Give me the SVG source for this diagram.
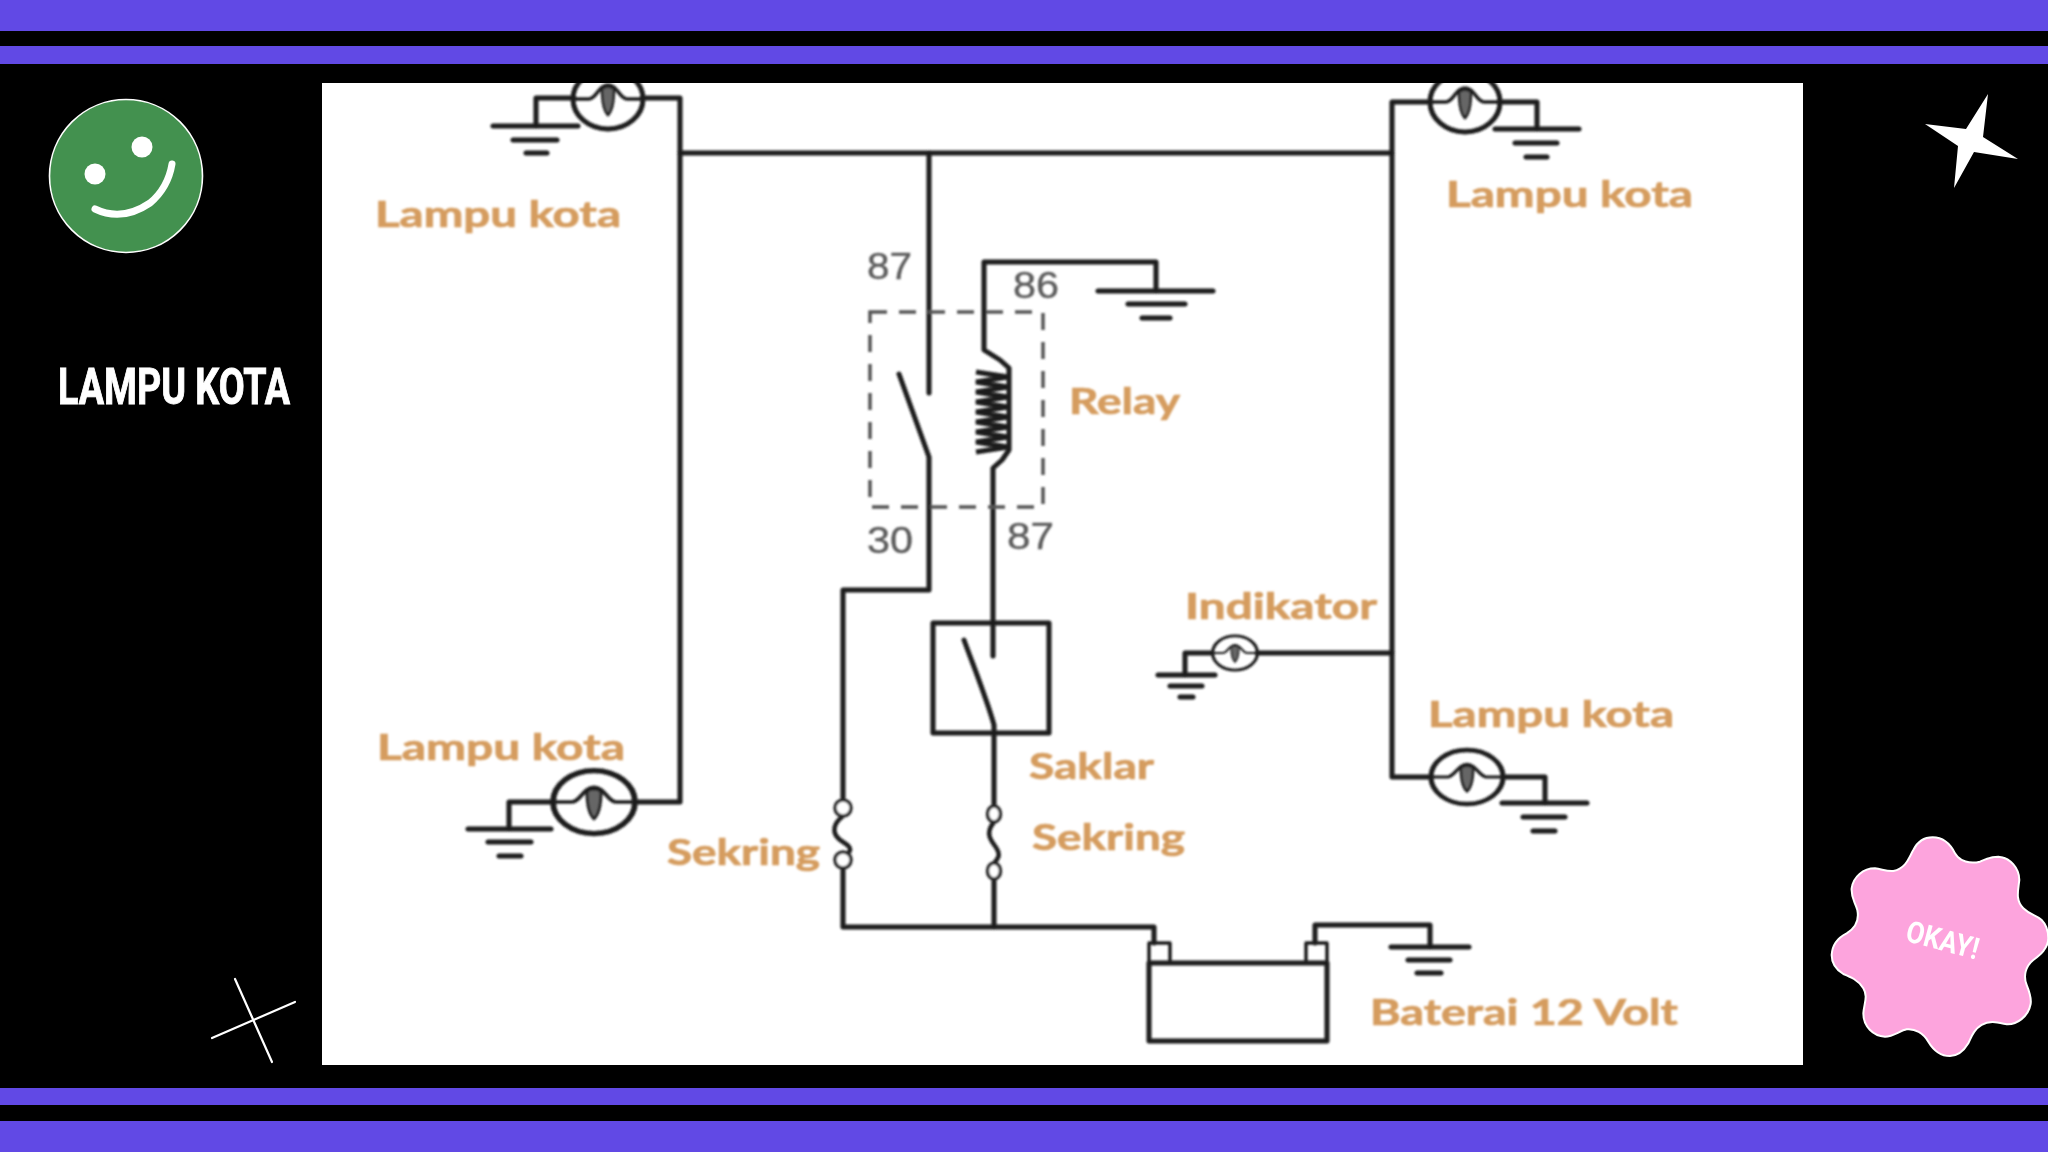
<svg xmlns="http://www.w3.org/2000/svg" width="2048" height="1152" viewBox="0 0 2048 1152">
<style>
.bar{fill:#6149e5}
.w{fill:none;stroke:#1c1c1c;stroke-width:5;stroke-linejoin:round;stroke-linecap:round}
.t{fill:none;stroke:#1c1c1c;stroke-width:3.5;stroke-linejoin:round}
.lab{font-family:"Lato","Open Sans","Liberation Sans",sans-serif;font-weight:700;font-size:36px;fill:#d59c5e;stroke:#d59c5e;stroke-width:.7}
.num{font-family:"Liberation Sans",sans-serif;font-size:37px;fill:#5c5c5c;stroke:#5c5c5c;stroke-width:.4}
.fuse{fill:#fff;stroke:#2a2a2a;stroke-width:3.5}
.cond{font-family:"Liberation Sans Narrow","Roboto","Liberation Sans",sans-serif;font-weight:700;fill:#fff}
</style>
<defs>
<clipPath id="panelClip"><rect x="322" y="83" width="1481" height="982"/></clipPath>
<filter id="soft" x="-5%" y="-5%" width="110%" height="110%"><feGaussianBlur stdDeviation="0.9"/></filter>
<filter id="softer" x="-5%" y="-5%" width="110%" height="110%"><feGaussianBlur stdDeviation="1.2"/></filter>
<g id="lampShape">
<ellipse cx="0" cy="0" rx="35" ry="30" fill="none" stroke="#1c1c1c" stroke-width="5"/>
<path d="M-35 0H-19C-12 0-9-14 0-14C9-14 12 0 19 0H35" fill="none" stroke="#1c1c1c" stroke-width="3.5"/>
<path d="M-6-10C-6 6-3 13 0 16C3 13 6 6 6-10C3-13-3-13-6-10Z" fill="#666" stroke="#1c1c1c" stroke-width="2.5"/>
</g>
</defs>

<rect width="2048" height="1152" fill="#000"/>
<g id="bars">
<rect class="bar" x="0" y="0" width="2048" height="31"/>
<rect class="bar" x="0" y="46" width="2048" height="18"/>
<rect class="bar" x="0" y="1088" width="2048" height="17"/>
<rect class="bar" x="0" y="1121" width="2048" height="31"/>
</g>

<rect id="panel" x="322" y="83" width="1481" height="982" fill="#fff"/>

<g id="diagram" clip-path="url(#panelClip)">
<g filter="url(#soft)">
<g id="connectors">
<path class="w" d="M536 126V98H574M642 98H680V802H635M553 802H509V829"/>
<path class="w" d="M680 153H1392"/>
<path class="w" d="M1430 102H1392V777H1430M1499 102H1537V129M1503 777H1545V803"/>
<path class="w" d="M1392 653H1257M1212 653H1185V675"/>
<path class="w" d="M929 153V393"/>
<path class="w" d="M899 374L929 457V590H843V808M843 860V927H1154V943"/>
<path class="w" d="M1156 291V262H984V350L1000 360L1009 368V450L1002 460L993 468V656"/>
<path class="w" d="M964 640C975 670 987 700 994 725V805M994 880V927"/>
<path class="w" d="M1315 943V925H1430V947"/>
</g>

<g id="relay">
<rect x="870" y="312" width="173" height="195" fill="none" stroke="#555" stroke-width="3.5" stroke-dasharray="17 12"/>
<path d="M976 372L1008 377L976 382L1008 387L976 392L1008 397L976 402L1008 407L976 412L1008 417L976 422L1008 427L976 432L1008 437L976 442L1008 447L976 452" fill="none" stroke="#1c1c1c" stroke-width="5"/>
</g>

<g id="switch"><rect class="w" x="933" y="623" width="116" height="110"/></g>

<g id="fuse-left">
<path d="M843 816C830 826 833 836 843 842C853 848 852 852 843 856" fill="none" stroke="#1c1c1c" stroke-width="4.5"/>
<circle class="fuse" cx="843" cy="808" r="8"/><circle class="fuse" cx="843" cy="860" r="8"/>
</g>
<g id="fuse-right">
<path d="M994 822C986 832 989 838 995 846C1001 854 999 858 994 863" fill="none" stroke="#1c1c1c" stroke-width="4.5"/>
<ellipse class="fuse" cx="994" cy="814" rx="6.5" ry="8"/><ellipse class="fuse" cx="994" cy="871" rx="6.5" ry="8"/>
</g>

<g id="battery">
<rect class="w" x="1149" y="963" width="178" height="78"/>
<rect class="t" x="1149" y="943" width="21" height="20"/>
<rect class="t" x="1306" y="943" width="21" height="20"/>
</g>

<g id="lamp-top-left"><use href="#lampShape" transform="translate(608 99)"/></g>
<g id="lamp-top-right"><use href="#lampShape" transform="translate(1465 102)"/></g>
<g id="lamp-bottom-left"><use href="#lampShape" transform="translate(594 802) scale(1.17 1.05)"/></g>
<g id="lamp-bottom-right"><use href="#lampShape" transform="translate(1467 777) scale(1.03 .9)"/></g>
<g id="lamp-indicator"><use href="#lampShape" transform="translate(1235 653) scale(.64 .57)"/></g>

<g id="grounds">
<path class="w" d="M493 126H578M513 140H557M526 153H547"/>
<path class="w" d="M1495 129H1579M1515 143H1557M1526 157H1547"/>
<path class="w" d="M468 829H551M488 842H531M499 856H521"/>
<path class="w" d="M1502 803H1587M1523 817H1565M1533 831H1555"/>
<path class="w" d="M1158 675H1215M1170 686H1202M1180 697H1193"/>
<path class="w" d="M1098 291H1213M1128 304H1185M1142 318H1170"/>
<path class="w" d="M1391 947H1469M1408 960H1450M1417 973H1441"/>
</g>
</g>

<g id="labels" filter="url(#softer)">
<text class="lab" x="375" y="227" textLength="246" lengthAdjust="spacingAndGlyphs">Lampu kota</text>
<text class="lab" x="1446" y="207" textLength="247" lengthAdjust="spacingAndGlyphs">Lampu kota</text>
<text class="lab" x="377" y="760" textLength="248" lengthAdjust="spacingAndGlyphs">Lampu kota</text>
<text class="lab" x="1428" y="727" textLength="246" lengthAdjust="spacingAndGlyphs">Lampu kota</text>
<text class="lab" x="1185" y="619" textLength="192" lengthAdjust="spacingAndGlyphs">Indikator</text>
<text class="lab" x="1069" y="414" textLength="111" lengthAdjust="spacingAndGlyphs">Relay</text>
<text class="lab" x="1029" y="779" textLength="125" lengthAdjust="spacingAndGlyphs">Saklar</text>
<text class="lab" x="667" y="865" textLength="153" lengthAdjust="spacingAndGlyphs">Sekring</text>
<text class="lab" x="1032" y="850" textLength="153" lengthAdjust="spacingAndGlyphs">Sekring</text>
<text class="lab" x="1370" y="1025" textLength="308" lengthAdjust="spacingAndGlyphs">Baterai 12 Volt</text>
<text class="num" x="867" y="279" textLength="45" lengthAdjust="spacingAndGlyphs">87</text>
<text class="num" x="1013" y="298" textLength="46" lengthAdjust="spacingAndGlyphs">86</text>
<text class="num" x="867" y="553" textLength="46" lengthAdjust="spacingAndGlyphs">30</text>
<text class="num" x="1007" y="549" textLength="47" lengthAdjust="spacingAndGlyphs">87</text>
</g>
</g>

<g id="face">
<ellipse cx="126" cy="176" rx="76.5" ry="76.5" fill="#43914f" stroke="#fff" stroke-width="1.6"/>
<ellipse cx="95" cy="174" rx="10.5" ry="10.5" fill="#fff"/>
<ellipse cx="142" cy="147" rx="10.5" ry="10.5" fill="#fff"/>
<path d="M95 209Q122 222 150 203Q168 188 172 164" fill="none" stroke="#fff" stroke-width="7" stroke-linecap="round"/>
</g>

<text id="title" class="cond" x="58" y="404" font-size="50" textLength="232" lengthAdjust="spacingAndGlyphs" stroke="#fff" stroke-width="1">LAMPU KOTA</text>

<polygon id="star" points="1988,94 1983,137 2018,159 1974,152 1954,188 1958,146 1925,124 1966,129" fill="#fff"/>

<g id="cross" stroke="#fff" stroke-width="2.2" stroke-linecap="round">
<line x1="235" y1="979" x2="272" y2="1062"/>
<line x1="212" y1="1038" x2="295" y2="1002"/>
</g>

<g id="badge">
<path transform="translate(1750 800) scale(.3333)" fill="#fda4dd" stroke="#fff" stroke-width="6" d="M430 213C470 205 478 170 490 150C505 120 530 112 548 112C580 112 600 130 615 160C630 185 660 192 690 185C710 175 730 170 745 170C780 172 808 205 808 240C805 270 795 300 820 325C840 345 860 345 875 360C890 375 895 395 895 415C895 445 870 465 850 480C825 500 820 530 830 555C840 580 845 595 842 612C835 650 800 675 770 673C745 668 720 660 695 675C670 690 665 710 655 730C640 755 620 768 600 768C570 768 550 750 535 725C520 700 495 685 470 688C450 692 430 710 405 710C370 708 340 680 340 640C342 610 355 590 340 565C325 540 300 530 280 522C260 510 245 490 245 465C247 430 270 410 290 400C315 385 328 360 322 330C315 305 303 295 305 265C310 230 340 205 375 205C395 207 410 215 430 213Z"/>
<text class="cond" transform="translate(1940 950) rotate(15)" text-anchor="middle" font-size="30" textLength="74" lengthAdjust="spacingAndGlyphs">OKAY!</text>
</g>
</svg>
